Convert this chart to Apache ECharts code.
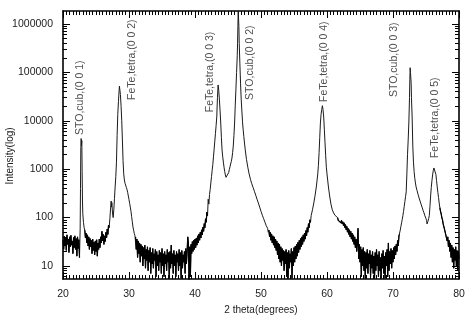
<!DOCTYPE html>
<html>
<head>
<meta charset="utf-8">
<script src="https://cdn.jsdelivr.net/npm/echarts@6/dist/echarts.min.js"></script>
<style>
  html, body { margin: 0; padding: 0; background: #fff; }
  #chart { width: 474px; height: 322px; }
</style>
</head>
<body>
<div id="chart"></div>
<script>
// XRD scan of FeTe film on SrTiO3, counts vs 2θ (log scale)

// Background stretches, recorded on a 0.1° grid starting at the given angle
const BG_STEP = 0.1;
const bgFrom20 = 20.0;
const bg20 = [34,22,41,26,38,21,44,28,36,19,
              40,25,43,27,33,18,39,24,42,22,
              37,16,40,23,35,15];
const bgFrom23 = 23.3;
const bg23 = [55,38,48,30,44,26,40,22,37,25,
              34,18,36,21,31,17,33,20,35,16,
              30,22,36,24,40,30,52,33,45,28,
              42,32,50,38,58,45,70,62];
const bgFrom31 = 31.0;
const bg31 = [40,22,36,15,33,18,30,12,28,16,
              26,10,24,14,27,9,22,13,25,8,
              21,12,24,7,19,11,23,9,18,13,
              22,6,20,10,17,8,21,12,19,7,
              23,10,18,6,20,11,17,8,22,12,
              19,5.5,20,9,27,11,18,7,21,10,
              17,6,20,12,18,8,22,10,19,5.5,
              21,9,17,12,20,7,23,11,19,40,
              30,5,25,6,28,18,32,20,34,22,
              36,24,38,27,42,30,46,34,50,38,
              56,44,64,52,75,62,95,80,130,110];
const bgFrom51 = 51.2;
const bg51 = [55,40,50,34,46,30,42,27,40,24,
              36,21,33,17,30,14,28,12,25,10,
              23,13,21,8,20,11,22,6,19,5.5,
              21,9,18,12,23,5.5,20,10,24,12,
              26,14,28,16,31,19,34,22,37,25,
              40,28,44,32,48,36,54,42,62,50,
              75,62,90,80];
const bgFrom61 = 61.6;
const bg61 = [100,88,96,84,92,78,88,74,82,68,
              78,62,72,56,66,50,60,45,56,40,
              52,36,48,32,44,28,40,24,36,20,
              32,60,14,28,12,25,6,22,10,24,
              8,20,5.5,19,9,22,7,18,11,21,
              6,17,9,20,7,16,5.5,19,8,22,
              10,17,6,20,8,15,5.5,18,9,21,
              7,16,5.5,19,10,22,6,30,8,20,
              11,23,9,21,12,24,14,26,17,28,
              20,34,26,42,45];
const bgFrom77 = 77.1;
const bg77 = [160,135,120,100,90,74,70,58,60,44,
              48,33,40,25,34,20,30,15,27,12,
              24,9,22,13,25,10,21,8,20,14];

// Reflections, [2θ, counts]
const peakSTO001 = [[22.6,60],[22.65,400],[22.7,2800],[22.75,4300],[22.8,3100],[22.85,3900],
  [22.9,900],[22.95,220],[23.0,120],[23.1,80],[23.2,62]];
const peakFeTe002 = [[27.1,95],[27.2,150],[27.3,220],[27.35,165],[27.4,205],[27.5,125],[27.6,100],
  [27.7,145],[27.8,250],[27.9,430],[28.0,700],[28.1,1400],[28.2,5000],[28.3,13500],[28.4,25000],
  [28.5,42000],[28.55,52000],[28.6,50000],[28.7,35000],[28.8,20000],[28.9,10000],[29.0,4000],
  [29.1,1500],[29.2,800],[29.3,600],[29.4,510],[29.5,470],[29.6,420],[29.7,380],[29.8,330],
  [29.9,280],[30.0,235],[30.1,195],[30.2,165],[30.3,135],[30.4,105],[30.5,82],[30.6,64],
  [30.7,55],[30.8,47],[30.9,42]];
const peakFeTe003STO002 = [[42.0,240],[42.1,190],[42.2,300],[42.3,380],[42.4,520],[42.5,700],
  [42.6,950],[42.7,1250],[42.8,1800],[42.9,2600],[43.0,3800],[43.1,5500],[43.2,8000],[43.3,12000],
  [43.4,30000],[43.5,55000],[43.6,42000],[43.7,27000],[43.8,16000],[43.9,9000],[44.0,4500],
  [44.1,2500],[44.2,1800],[44.3,1400],[44.4,1100],[44.5,900],[44.6,760],[44.7,680],[44.8,640],
  [44.9,660],[45.0,740],[45.1,850],[45.2,980],[45.3,1120],[45.4,1280],[45.5,1450],[45.6,1700],
  [45.7,2200],[45.8,3000],[45.9,5000],[46.0,9000],[46.1,21000],[46.2,45000],[46.3,100000],
  [46.4,220000],[46.45,400000],[46.5,900000],[46.55,1850000],[46.6,1850000],[46.65,900000],
  [46.7,400000],[46.8,150000],[46.9,60000],[47.0,28000],[47.1,16000],[47.2,9500],[47.3,6500],
  [47.4,4700],[47.6,2600],[47.8,1600],[48.0,1100],[48.2,800],[48.4,620],[48.6,500],[48.8,420],
  [49.0,350],[49.2,290],[49.4,240],[49.6,200],[49.8,165],[50.0,135],[50.2,112],[50.4,95],
  [50.6,80],[50.8,68],[51.0,60],[51.1,50]];
const peakFeTe004 = [[57.6,110],[57.8,145],[58.0,200],[58.2,290],[58.4,450],[58.5,600],[58.6,800],
  [58.7,1200],[58.8,2200],[58.9,4500],[59.0,9000],[59.1,13500],[59.2,17000],[59.3,20500],
  [59.35,20000],[59.4,17000],[59.5,12000],[59.6,6500],[59.7,3500],[59.8,1900],[59.9,1100],
  [60.0,800],[60.2,450],[60.4,280],[60.6,190],[60.8,145],[61.0,125],[61.2,112],[61.4,104]];
const peakSTO003FeTe005 = [[71.1,55],[71.2,66],[71.3,78],[71.4,92],[71.5,110],[71.6,135],
  [71.7,170],[71.8,215],[71.9,270],[72.0,340],[72.1,800],[72.2,2000],[72.3,4000],[72.4,9000],
  [72.5,30000],[72.55,70000],[72.6,125000],[72.65,100000],[72.7,105000],[72.75,60000],
  [72.8,30000],[72.9,12000],[73.0,3000],[73.1,1400],[73.2,900],[73.3,650],[73.4,520],[73.5,430],
  [73.65,360],[73.8,300],[73.95,255],[74.1,220],[74.25,190],[74.4,165],[74.55,142],[74.7,125],
  [74.8,112],[74.9,104],[75.0,95],[75.1,86],[75.15,74],[75.2,80],[75.25,70],[75.3,84],[75.4,95],
  [75.5,110],[75.6,170],[75.7,280],[75.8,420],[75.9,580],[76.0,760],[76.1,930],[76.2,1060],
  [76.3,1130],[76.4,1000],[76.5,780],[76.6,580],[76.7,430],[76.8,330],[76.9,260],[77.0,200]];

// Peak annotations: text and the [2θ, counts] point where the text begins
const labelText = ['STO,cub,(0 0 1)', 'FeTe,tetra,(0 0 2)', 'FeTe,tetra,(0 0 3)', 'STO,cub,(0 0 2)',
                   'FeTe,tetra,(0 0 4)', 'STO,cub,(0 0 3)', 'FeTe,tetra,(0 0 5)'];
const labelAt = [[22.6, 5100], [30.4, 27000], [42.25, 15000], [48.3, 27000],
                 [59.6, 24500], [70.2, 31000], [76.4, 1700]];

// Axis ranges and ticks
const xMin = 20, xMax = 80, xStep = 10, xMinorStep = 0.5;
const yMin = 5.39, yMax = 1856000;
const xMajor = [20, 30, 40, 50, 60, 70, 80];
const yMajor = [10, 100, 1000, 10000, 100000, 1000000];

function gridded(start, counts) {
  return counts.map((c, i) => [+(start + i * BG_STEP).toFixed(2), c]);
}
const scan = [].concat(
  gridded(bgFrom20, bg20), peakSTO001,
  gridded(bgFrom23, bg23), peakFeTe002,
  gridded(bgFrom31, bg31), peakFeTe003STO002,
  gridded(bgFrom51, bg51), peakFeTe004,
  gridded(bgFrom61, bg61), peakSTO003FeTe005,
  gridded(bgFrom77, bg77)
).sort((a, b) => a[0] - b[0]);

// background stretches alone, broken between stretches, to darken the noise band
const noiseBand = [].concat(
  gridded(bgFrom20, bg20), [[22.55, null]],
  gridded(bgFrom23, bg23), [[27.05, null]],
  gridded(bgFrom31, bg31), [[41.95, null]],
  gridded(bgFrom51, bg51), [[57.55, null]],
  gridded(bgFrom61, bg61), [[71.05, null]],
  gridded(bgFrom77, bg77)
);

// minor tick positions: every 0.5° on x, 2..9 × 10^n on y
const xMinor = [];
for (let k = 1; k < (xMax - xMin) / xMinorStep; k++) {
  const v = +(xMin + k * xMinorStep).toFixed(2);
  if (v % xStep !== 0) xMinor.push(v);
}
const yMinor = [];
for (let e = 0; e <= 6; e++) {
  for (let m = 2; m <= 9; m++) {
    const v = m * Math.pow(10, e);
    if (v > yMin && v < yMax) yMinor.push(v);
  }
}

const FONT = '"Liberation Sans", Arial, sans-serif';
const INK = '#000';
const TEXT = '#222';

function xAxisDef(pos, values, len, withLine, withLabels) {
  return {
    type: 'value', position: pos, min: xMin, max: xMax, interval: xStep,
    axisLine: { show: withLine, onZero: false, lineStyle: { color: INK, width: 1.6 } },
    axisTick: { show: true, inside: true, length: len, customValues: values,
                lineStyle: { color: INK, width: 1 } },
    splitLine: { show: false },
    axisLabel: { show: withLabels, customValues: xMajor, margin: 10, fontSize: 10.5,
                 fontFamily: FONT, color: TEXT },
    name: withLabels ? '2 theta(degrees)' : '',
    nameLocation: 'middle', nameGap: 26,
    nameTextStyle: { fontSize: 10, fontFamily: FONT, color: TEXT }
  };
}
function yAxisDef(pos, values, len, withLine, withLabels) {
  return {
    type: 'log', logBase: 10, position: pos, min: yMin, max: yMax,
    axisLine: { show: withLine, onZero: false, lineStyle: { color: INK, width: 1.6 } },
    axisTick: { show: true, inside: true, length: len, customValues: values,
                lineStyle: { color: INK, width: 1 } },
    splitLine: { show: false },
    axisLabel: { show: withLabels, customValues: yMajor, margin: 10, fontSize: 10.5,
                 fontFamily: FONT, color: TEXT, formatter: v => String(Math.round(v)) }
  };
}

// transparent copies of the scan that carry the frame's extra tick axes
const traceCopies = [1, 2, 3].map(i => ({
  type: 'line', data: scan, xAxisIndex: i, yAxisIndex: i, silent: true,
  showSymbol: false, symbol: 'none', lineStyle: { width: 0, opacity: 0 }
}));

const chart = echarts.init(document.getElementById('chart'), null, { renderer: 'canvas' });
chart.setOption({
  animation: false,
  backgroundColor: '#fff',
  grid: { left: 63, right: 15, top: 11, bottom: 43 },
  xAxis: [
    xAxisDef('bottom', xMajor, 7, true, true),
    xAxisDef('bottom', xMinor, 4, false, false),
    xAxisDef('top', xMajor, 7, true, false),
    xAxisDef('top', xMinor, 4, false, false)
  ],
  yAxis: [
    yAxisDef('left', yMajor, 7, true, true),
    yAxisDef('left', yMinor, 4, false, false),
    yAxisDef('right', yMajor, 7, true, false),
    yAxisDef('right', yMinor, 4, false, false)
  ],
  graphic: [{
    type: 'text', x: 10, y: 156, rotation: Math.PI / 2,
    style: { text: 'Intensity(log)', font: '10px ' + FONT, fill: TEXT,
             align: 'center', verticalAlign: 'middle' }
  }],
  series: [
    {
      type: 'line', data: scan, xAxisIndex: 0, yAxisIndex: 0,
      showSymbol: false, symbol: 'none', clip: true,
      lineStyle: { color: '#1a1a1a', width: 1 }
    },
    {
      type: 'line', data: noiseBand, xAxisIndex: 0, yAxisIndex: 0, silent: true,
      showSymbol: false, symbol: 'none', clip: true, connectNulls: false,
      lineStyle: { color: INK, width: 1.2 }
    }
  ].concat(traceCopies, [
    {
      type: 'scatter', xAxisIndex: 0, yAxisIndex: 0, silent: true,
      symbolSize: 1, itemStyle: { color: 'rgba(0,0,0,0)' },
      data: labelAt.map((p, i) => ({ name: labelText[i], value: p })),
      label: {
        show: true, formatter: '{b}', rotate: 90, position: 'inside',
        align: 'left', verticalAlign: 'middle',
        fontSize: 10.5, fontFamily: FONT, color: TEXT
      }
    }
  ])
});
</script>
</body>
</html>
